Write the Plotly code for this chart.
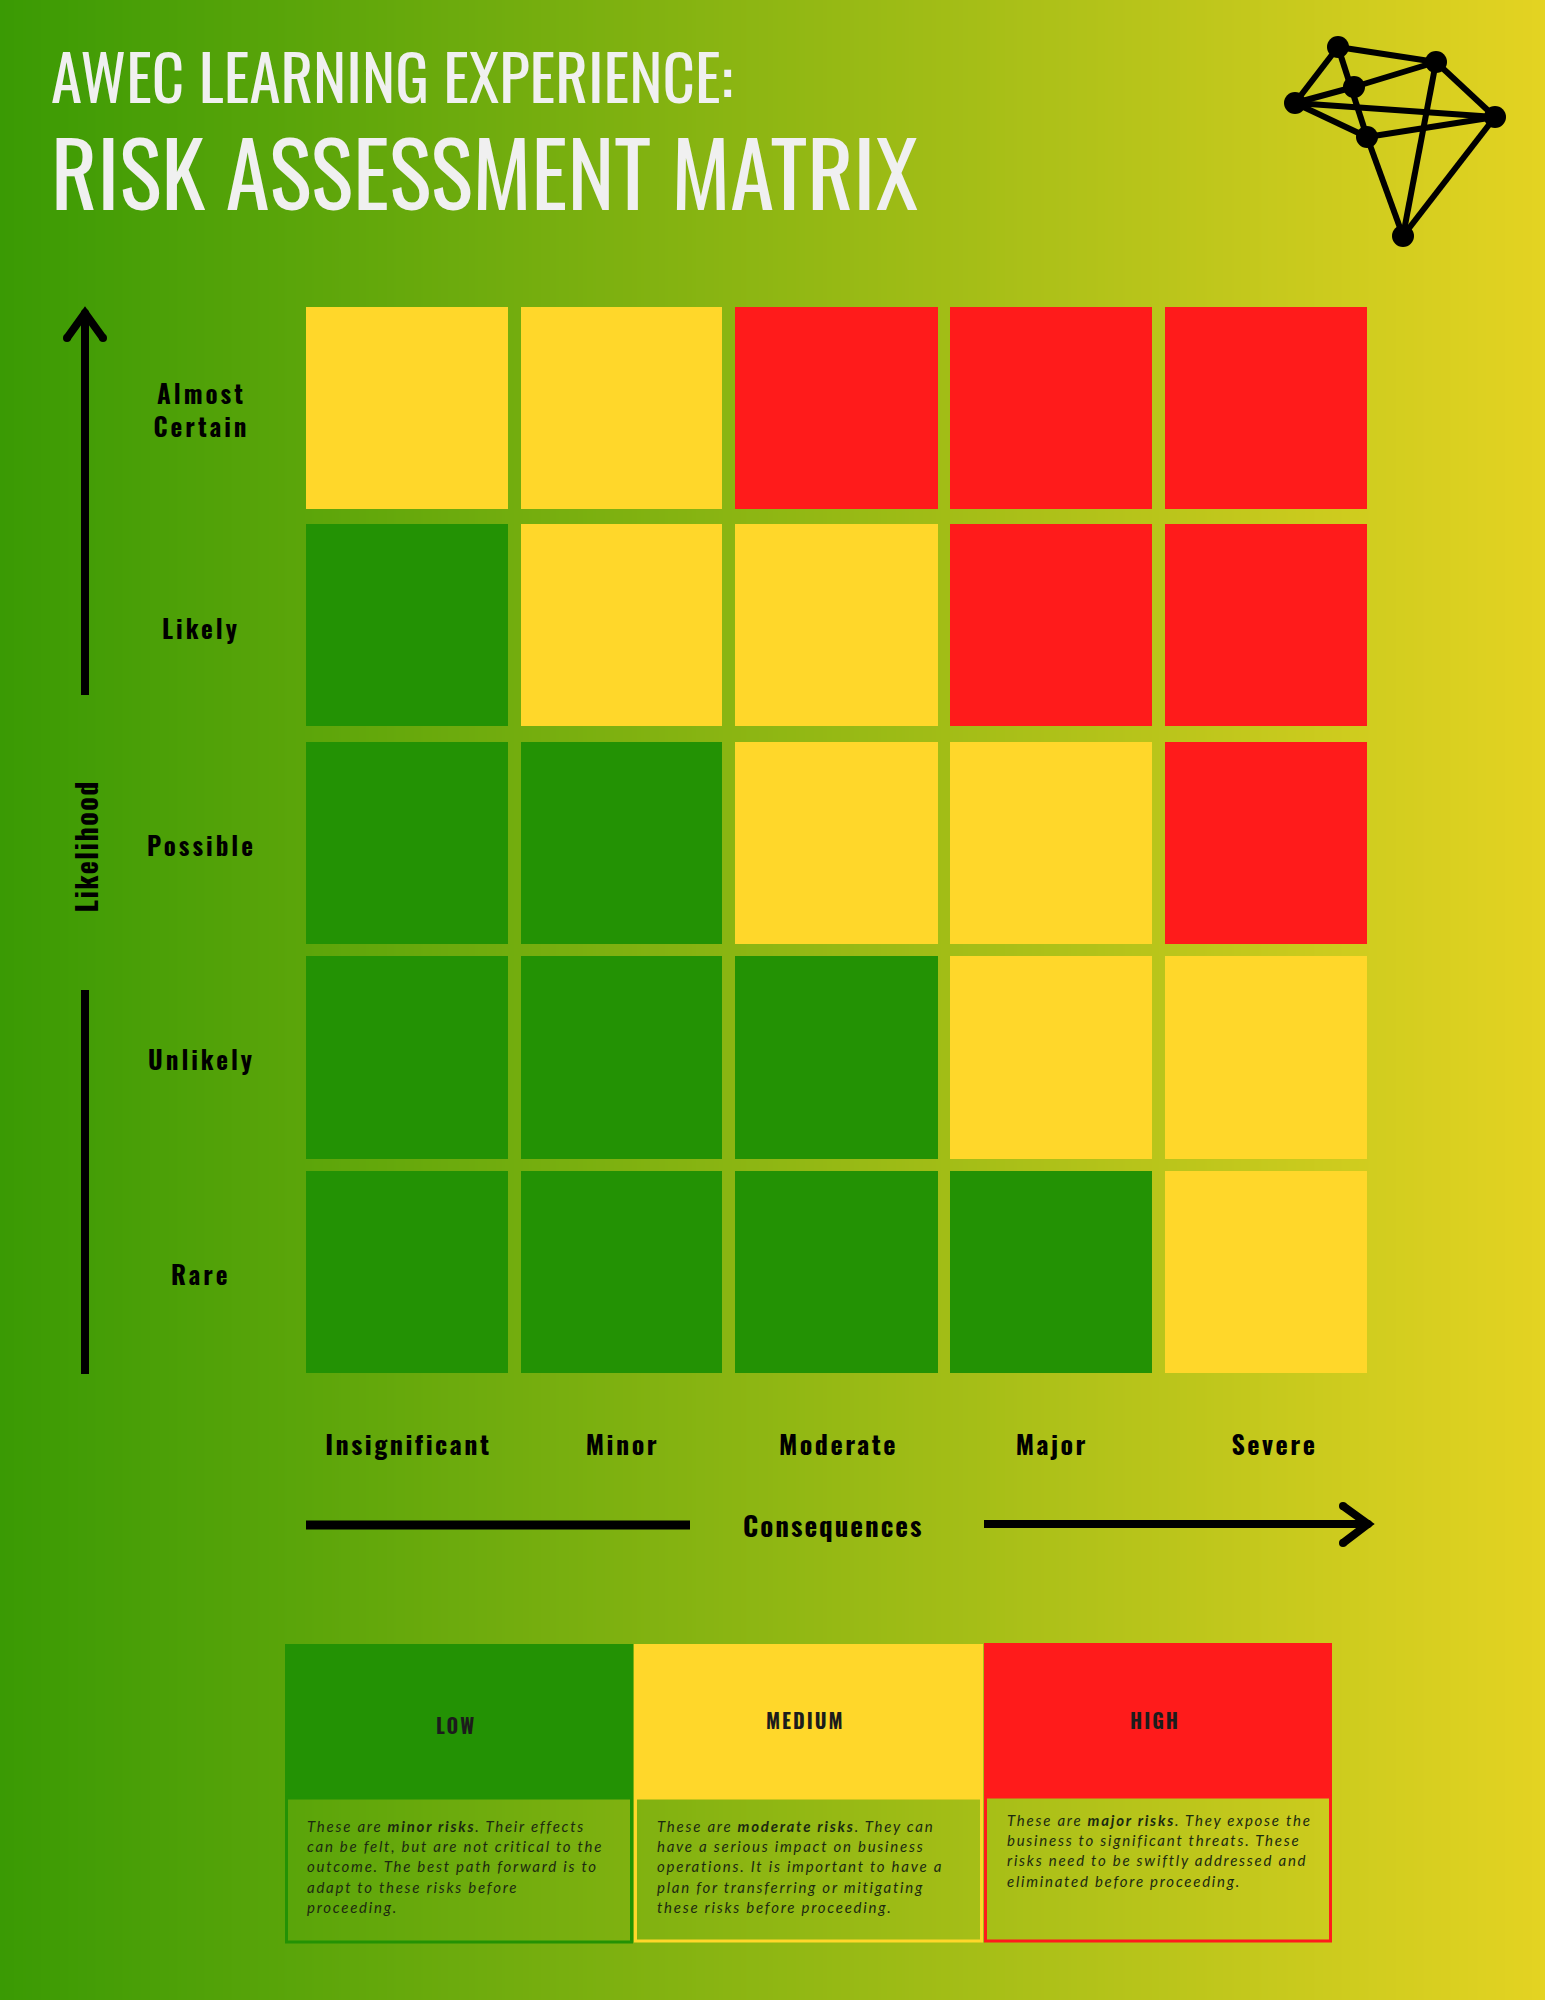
import json
import plotly.graph_objects as go

WIDTH = 1545
HEIGHT = 2000

consequences = ["Insignificant", "Minor", "Moderate", "Major", "Severe"]
likelihood = ["Almost<br>Certain", "Likely", "Possible", "Unlikely", "Rare"]

# 0 low, 1 medium, 2 high, top row is Almost Certain
risk_levels = [
    [1, 1, 2, 2, 2],
    [0, 1, 1, 2, 2],
    [0, 0, 1, 1, 2],
    [0, 0, 0, 1, 1],
    [0, 0, 0, 0, 1],
]

logo_nodes_x = [1338, 1436, 1354, 1295, 1495, 1367, 1403]
logo_nodes_y = [47, 62, 87, 103, 117, 137, 236]
logo_edges = [(0, 1), (0, 3), (0, 5), (1, 2), (1, 4), (1, 6), (2, 3),
              (3, 4), (3, 5), (5, 4), (5, 6), (4, 6)]

low_lines = ["These are <b>minor risks</b>. Their effects",
             "can be felt, but are not critical to the",
             "outcome. The best path forward is to",
             "adapt to these risks before",
             "proceeding."]
medium_lines = ["These are <b>moderate risks</b>. They can",
                "have a serious impact on business",
                "operations. It is important to have a",
                "plan for transferring or mitigating",
                "these risks before proceeding."]
high_lines = ["These are <b>major risks</b>. They expose the",
              "business to significant threats. These",
              "risks need to be swiftly addressed and",
              "eliminated before proceeding."]

GREEN = "#239204"
YELLOW = "#FFD72A"
RED = "#FF1B1B"
HEAD_FONT = "Oswald"

# cell edges on the page, the None columns/rows of z are the gaps
col_edges = [306, 508, 521, 722, 735, 938, 950, 1152, 1165, 1367]
row_edges = [307, 509, 524, 726, 742, 944, 956, 1159, 1171, 1373]
col_mid = [408, 622, 838, 1052, 1274]
row_mid = [409, 627, 844, 1058, 1273]

z = []
for i, row in enumerate(risk_levels):
    line = []
    for j, v in enumerate(row):
        line.append(v)
        if j < 4:
            line.append(None)
    z.append(line)
    if i < 4:
        z.append([None] * 9)

fig = go.Figure()

# background gradient
fig.add_trace(go.Heatmap(
    x=[0, WIDTH], y=[0, HEIGHT], z=[[0, 1], [0, 1]], zsmooth="best", showscale=False,
    colorscale=[[0, "#3A9A04"], [1, "#E4D322"]], hoverinfo="skip"))

fig.add_trace(go.Heatmap(
    x=col_edges, y=row_edges, z=z, zmin=0, zmax=2, showscale=False,
    colorscale=[[0, GREEN], [0.25, GREEN], [0.25, YELLOW], [0.75, YELLOW],
                [0.75, RED], [1, RED]],
    hoverinfo="skip"))

# logo
for a, b in logo_edges:
    fig.add_trace(go.Scatter(
        x=[logo_nodes_x[a], logo_nodes_x[b]], y=[logo_nodes_y[a], logo_nodes_y[b]],
        mode="lines", line=dict(color="black", width=6),
        hoverinfo="skip", showlegend=False))
fig.add_trace(go.Scatter(
    x=logo_nodes_x, y=logo_nodes_y, mode="markers",
    marker=dict(color="black", size=22),
    hoverinfo="skip", showlegend=False))

# axis arrows, heads get markers for the round ends
shafts = [
    ([85, 85], [695, 313], 8),
    ([85, 85], [990, 1374], 8),
    ([306, 690], [1525, 1525], 9),
    ([984, 1368], [1524, 1524], 8),
]
heads = [
    ([67, 85, 103], [338, 313, 338], 8),
    ([1343, 1368, 1343], [1506, 1524, 1543], 8),
]
for ax, ay, w in shafts:
    fig.add_trace(go.Scatter(
        x=ax, y=ay, mode="lines", line=dict(color="black", width=w),
        hoverinfo="skip", showlegend=False))
for ax, ay, w in heads:
    fig.add_trace(go.Scatter(
        x=ax, y=ay, mode="lines+markers", line=dict(color="black", width=w),
        marker=dict(color="black", size=w),
        hoverinfo="skip", showlegend=False))

shapes = []
legend_boxes = [
    (285, 633, 1644, 1798, 1942, GREEN),
    (634, 983, 1644, 1798, 1941, YELLOW),
    (984, 1332, 1643, 1797, 1941, RED),
]
for x0, x1, y0, y1, y2, color in legend_boxes:
    shapes.append(dict(type="rect", x0=x0, x1=x1, y0=y0, y1=y1,
                       fillcolor=color, line=dict(width=0), layer="above"))
    shapes.append(dict(type="rect", x0=x0 + 1.5, x1=x1 - 1.5, y0=y1, y1=y2,
                       line=dict(color=color, width=3), layer="above"))

def label(x, y, text, size, color="black", anchor="center", angle=0, bold=True):
    txt = f"<b>{text}</b>" if bold else text
    return dict(x=x, y=y, text=txt, showarrow=False, xanchor=anchor, yanchor="middle",
                textangle=angle, font=dict(family=HEAD_FONT, size=size, color=color))

notes = [
    label(49, 74, "AWEC LEARNING EXPERIENCE:", 63, "#F0F0F0", anchor="left", bold=False),
    label(49, 170, "RISK ASSESSMENT MATRIX", 89, "#F0F0F0", anchor="left", bold=False),
    label(85, 847, "Likelihood", 28, angle=-90),
    label(833, 1525, "Consequences", 27),
    label(456, 1725, "LOW", 20, "#1C1C1C"),
    label(805, 1720, "MEDIUM", 20, "#1C1C1C"),
    label(1155, 1720, "HIGH", 20, "#1C1C1C"),
]
for name, y in zip(likelihood, row_mid):
    notes.append(label(201, y, name, 25))
for name, x in zip(consequences, col_mid):
    notes.append(label(x, 1443, name, 26))

for lines, x, top in [(low_lines, 304.5, 1826), (medium_lines, 654.5, 1826), (high_lines, 1004.5, 1820)]:
    for k, line in enumerate(lines):
        notes.append(dict(x=x, y=top + k * 20.2, text=f"<i>{line}</i>", showarrow=False,
                          xanchor="left", yanchor="middle",
                          font=dict(family="Lato", size=15, color="#1C2A10")))

fig.update_layout(
    width=WIDTH, height=HEIGHT, margin=dict(l=0, r=0, t=0, b=0),
    paper_bgcolor="#8FB014", plot_bgcolor="rgba(0,0,0,0)", showlegend=False,
    xaxis=dict(range=[0, WIDTH], visible=False, fixedrange=True),
    yaxis=dict(range=[HEIGHT, 0], visible=False, fixedrange=True),
    shapes=shapes, annotations=notes)

# plotly has no letter spacing option, so set it on the svg text by font size.
# the 15px body lines are left aligned, so push them back by half the added width
spacing = {15: 1.75, 20: 2, 25: 3, 26: 2.5, 27: 2, 28: 1.5}
post = ("document.body.style.margin='0';"
        f"var sp={json.dumps(spacing)};"
        "document.querySelectorAll('.annotation-text').forEach(function(t){"
        "var fs=parseInt(t.style.fontSize),s=sp[fs];if(!s)return;"
        "var w0=t.getComputedTextLength();"
        "t.style.letterSpacing=s+'px';"
        "if(fs===15){var d=t.getComputedTextLength()-w0;"
        "t.setAttribute('x',parseFloat(t.getAttribute('x'))+d/2);}});")

fig.write_html("out.html", config=dict(displayModeBar=False), post_script=post)
